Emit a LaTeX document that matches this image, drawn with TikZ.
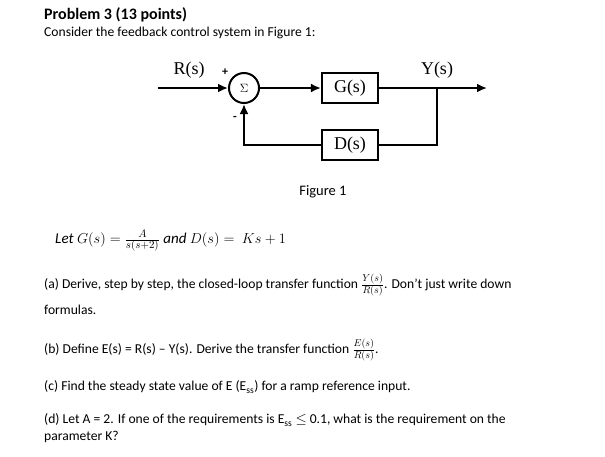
\documentclass[tikz,border=0pt]{standalone}
\usepackage{fontspec}
\usepackage{amsmath}
\setmainfont{Carlito}
\usetikzlibrary{positioning,arrows.meta}
\newfontfamily\blockfont{Liberation Serif}

\tikzset{
  block/.style={draw,line width=2.2pt,minimum width=56pt,minimum height=30pt,font=\blockfont\fontsize{18}{18}\selectfont},
  sig/.style={line width=2.2pt,-{Latex[length=10pt,width=9pt]}},
  line/.style={line width=2.2pt},
  txt/.style={anchor=west,inner sep=0pt,font=\fontsize{13.6}{15}\selectfont},
}

\begin{document}
\begin{tikzpicture}[x=1pt,y=-1pt]
    \useasboundingbox (0,0) rectangle (605,456);

    \node[txt,font=\bfseries\fontsize{16}{18}\selectfont] (title) at (44,15) {Problem 3 (13 points)};
    \node[txt] (intro) at (44,33) {Consider the feedback control system in Figure 1:};

    \node[draw,circle,line width=2pt,minimum size=30pt,inner sep=0pt,font=\large] (sum) at (244,88) {$\Sigma$};
    \node[block] (G) at (350,88) {G(s)};
    \node[block] (D) at (350,145) {D(s)};
    \coordinate (in) at (158,88);
    \coordinate (branch) at (437,88);
    \coordinate (out) at (487,88);

    \draw[sig] (in) -- (sum);
    \draw[sig] (sum) -- (G);
    \draw[sig] (G) -- (out);
    \draw[line] (branch) |- (D);
    \draw[sig] (D) -| (sum);

    \node[font=\blockfont\fontsize{18}{18}\selectfont] (R) at (189,70) {R(s)};
    \node[font=\blockfont\fontsize{18}{18}\selectfont] (Y) at (437,70) {Y(s)};
    \node[font=\bfseries\large] (plus) at (225,72) {+};
    \node[font=\bfseries\large] (minus) at (235,118) {-};

    \node[font=\fontsize{14.5}{16}\selectfont] (fig) at (323,192) {Figure 1};

    \node[txt,font=\fontsize{15}{16}\selectfont] (let) at (55,241) {$\mathit{Let}\ G(s)=\frac{A}{s(s+2)}\ \mathit{and}\ D(s)=\ Ks+1$};
    \node[txt] (qa) at (44,285) {(a) Derive, step by step, the closed-loop transfer function $\frac{Y(s)}{R(s)}$. Don't just write down};
    \node[txt] (qa2) at (44,310) {formulas.};
    \node[txt] (qb) at (44,350) {(b) Define E(s) = R(s) -- Y(s). Derive the transfer function $\frac{E(s)}{R(s)}$.};
    \node[txt] (qc) at (44,387) {(c) Find the steady state value of E (E\textsubscript{ss}) for a ramp reference input.};
    \node[txt] (qd) at (44,420) {(d) Let A = 2. If one of the requirements is E\textsubscript{ss} $\leq$ 0.1, what is the requirement on the};
    \node[txt] (qd2) at (44,437) {parameter K?};
\end{tikzpicture}
\end{document}
